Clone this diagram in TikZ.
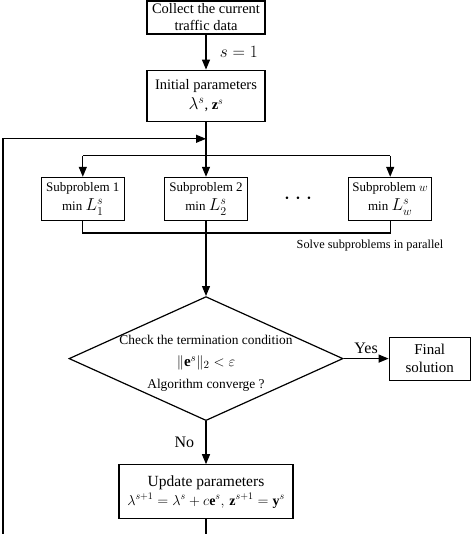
\documentclass[tikz,border=0pt]{standalone}
\usepackage{amsmath,amssymb}
\usepackage{fontspec}
\setmainfont{Liberation Serif}
\usetikzlibrary{shapes.geometric, arrows.meta, positioning, calc}

\tikzset{
	stage/.style={draw, line width=1.2pt, align=center, inner sep=0pt, font=\fontsize{14.5}{17}\selectfont},
	subbox/.style={draw, line width=1.2pt, align=center, inner sep=0pt, minimum width=83pt, minimum height=43pt, font=\fontsize{13}{15}\selectfont},
	flow/.style={line width=1.2pt},
	tag/.style={font=\fontsize{16}{18}\selectfont},
	>={Triangle[length=10pt,width=8pt]}
}
\newcommand{\bigmath}[1]{\mbox{\fontsize{18}{18}\selectfont$#1$}}

\begin{document}
\begin{tikzpicture}[x=1pt, y=-1pt, node distance=35pt and 39pt]
	\useasboundingbox (0,0) rectangle (474,534);
	\node[stage, minimum width=118pt, minimum height=33pt] (collect) at (206,17.5) {Collect the current\\traffic data};
	\node[stage, minimum width=118pt, minimum height=51pt, below =of collect] (init) {Initial parameters\\[3pt]\bigmath{\lambda^{s}}, $\mathbf{z}^{s}$};
	\node[subbox, below =55pt of init] (sub2) {Subproblem 2\\[4pt]min \bigmath{L_{2}^{s}}};
	\node[subbox, left =of sub2] (sub1) {Subproblem 1\\[4pt]min \bigmath{L_{1}^{s}}};
	\node[subbox, right =100pt of sub2] (subw) {Subproblem $w$\\[4pt]min \bigmath{L_{w}^{s}}};
	\node[font=\fontsize{24}{24}\selectfont] (dots) at ($(sub2.east)!0.5!(subw.west)+(2,0)$) {$\cdots$};
	\node[font=\fontsize{12.3}{14}\selectfont] (parallel) at (370,246) {Solve subproblems in parallel};
	\node[draw, diamond, line width=1.2pt, inner sep=0pt, minimum width=274pt, minimum height=124pt, below =75pt of sub2] (check) {};
	\node[align=center, font=\fontsize{13.4}{22}\selectfont] (checktext) at ($(check.center)+(0,5)$) {Check the termination condition\\\mbox{\fontsize{15}{15}\selectfont$\|\mathbf{e}^{s}\|_{2}<\varepsilon$}\\Algorithm converge ?};
	\node[stage, minimum width=81pt, minimum height=43pt, right =45pt of check, font=\fontsize{15}{18}\selectfont] (final) {Final\\solution};
	\node[stage, minimum width=174pt, minimum height=54pt, below =43pt of check, font=\fontsize{15.5}{17}\selectfont] (update) {Update parameters\\[2pt]\mbox{\fontsize{14}{14}\selectfont$\lambda^{s+1}=\lambda^{s}+c\mathbf{e}^{s},\,\mathbf{z}^{s+1}=\mathbf{y}^{s}$}};

	\coordinate (join) at ($(init.south)+(0,17)$);
	\coordinate (split) at ($(init.south)+(0,34)$);
	\coordinate (merge) at ($(sub2.south)+(0,12)$);
	\coordinate (corner) at (3,545);

	\draw[flow,->] (collect) -- node[right=10pt, font=\fontsize{16}{17}\selectfont] {$s=1$} (init);
	\draw[flow] (init.south) -- (split);
	\draw[flow] (sub1.north |- split) -- (subw.north |- split);
	\foreach \to in {sub1, sub2, subw}
		\draw[flow,->] (\to.north |- split) -- (\to);
	\draw[flow] (sub1.south) -- (sub1.south |- merge) -- (subw.south |- merge) -- (subw.south);
	\draw[flow,->] (sub2.south) -- (check);
	\draw[flow,->] (check) -- node[tag, above=1pt] {Yes} (final);
	\draw[flow,->] (check) -- node[tag, left=8pt] {No} (update);
	\draw[flow,->] (update.south) -- (update.south |- corner) -- (corner) |- (join);
\end{tikzpicture}
\end{document}
